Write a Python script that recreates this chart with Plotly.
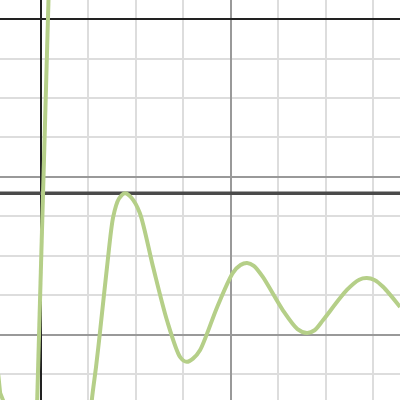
import plotly.graph_objects as go

# wave branch
wave_x = [1.03, 1.07, 1.16, 1.24, 1.39, 1.52, 1.64, 1.77, 1.90, 2.08, 2.36, 2.65, 2.93, 3.07, 3.20, 3.35, 3.71, 4.04, 4.20, 4.34, 4.48, 4.67, 5.09, 5.40, 5.60, 5.76, 5.94, 6.44, 6.70, 6.86, 7.02, 7.20, 7.56]
wave_y = [-10.5, -9.65, -8.80, -7.95, -6.28, -5.01, -4.55, -4.41, -4.52, -4.91, -6.28, -7.62, -8.56, -8.68, -8.60, -8.38, -7.29, -6.43, -6.23, -6.18, -6.25, -6.53, -7.37, -7.85, -7.95, -7.88, -7.62, -6.86, -6.60, -6.56, -6.61, -6.78, -7.29]

# steep branch near the y axis
steep_x = [-0.10, -0.08, 0.04, 0.15, 0.17]
steep_y = [-10.5, -9.65, -4.41, 0.48, 1.0]

# small piece at the left edge
edge_x = [-0.90, -0.86, -0.80, -0.75]
edge_y = [-9.0, -9.47, -9.65, -10.5]

level_x = [-2, 9]
level_y = [-4.41, -4.41]

green = "#b5cf88"
fig = go.Figure()
fig.add_trace(go.Scatter(x=level_x, y=level_y, mode="lines", line=dict(color="#4a4a4a", width=3.5)))
fig.add_trace(go.Scatter(x=wave_x, y=wave_y, mode="lines", line=dict(color=green, width=4, shape="spline", smoothing=0.8)))
fig.add_trace(go.Scatter(x=steep_x, y=steep_y, mode="lines", line=dict(color=green, width=4)))
fig.add_trace(go.Scatter(x=edge_x, y=edge_y, mode="lines", line=dict(color=green, width=4)))

axis = dict(showticklabels=False, ticks="", dtick=4, gridcolor="#999999", gridwidth=1.5,
            minor=dict(dtick=1, showgrid=True, gridcolor="#dddddd", gridwidth=1.5),
            zeroline=True, zerolinecolor="#222222", zerolinewidth=2)
fig.update_layout(width=400, height=400, margin=dict(l=0, r=0, t=0, b=0, pad=0),
                  plot_bgcolor="white", paper_bgcolor="white", showlegend=False,
                  xaxis=dict(range=[-0.863, 7.558], **axis),
                  yaxis=dict(range=[-9.646, 0.481], **axis))
fig.write_html("out.html", config={"displayModeBar": False},
               post_script="document.body.style.margin='0';")
